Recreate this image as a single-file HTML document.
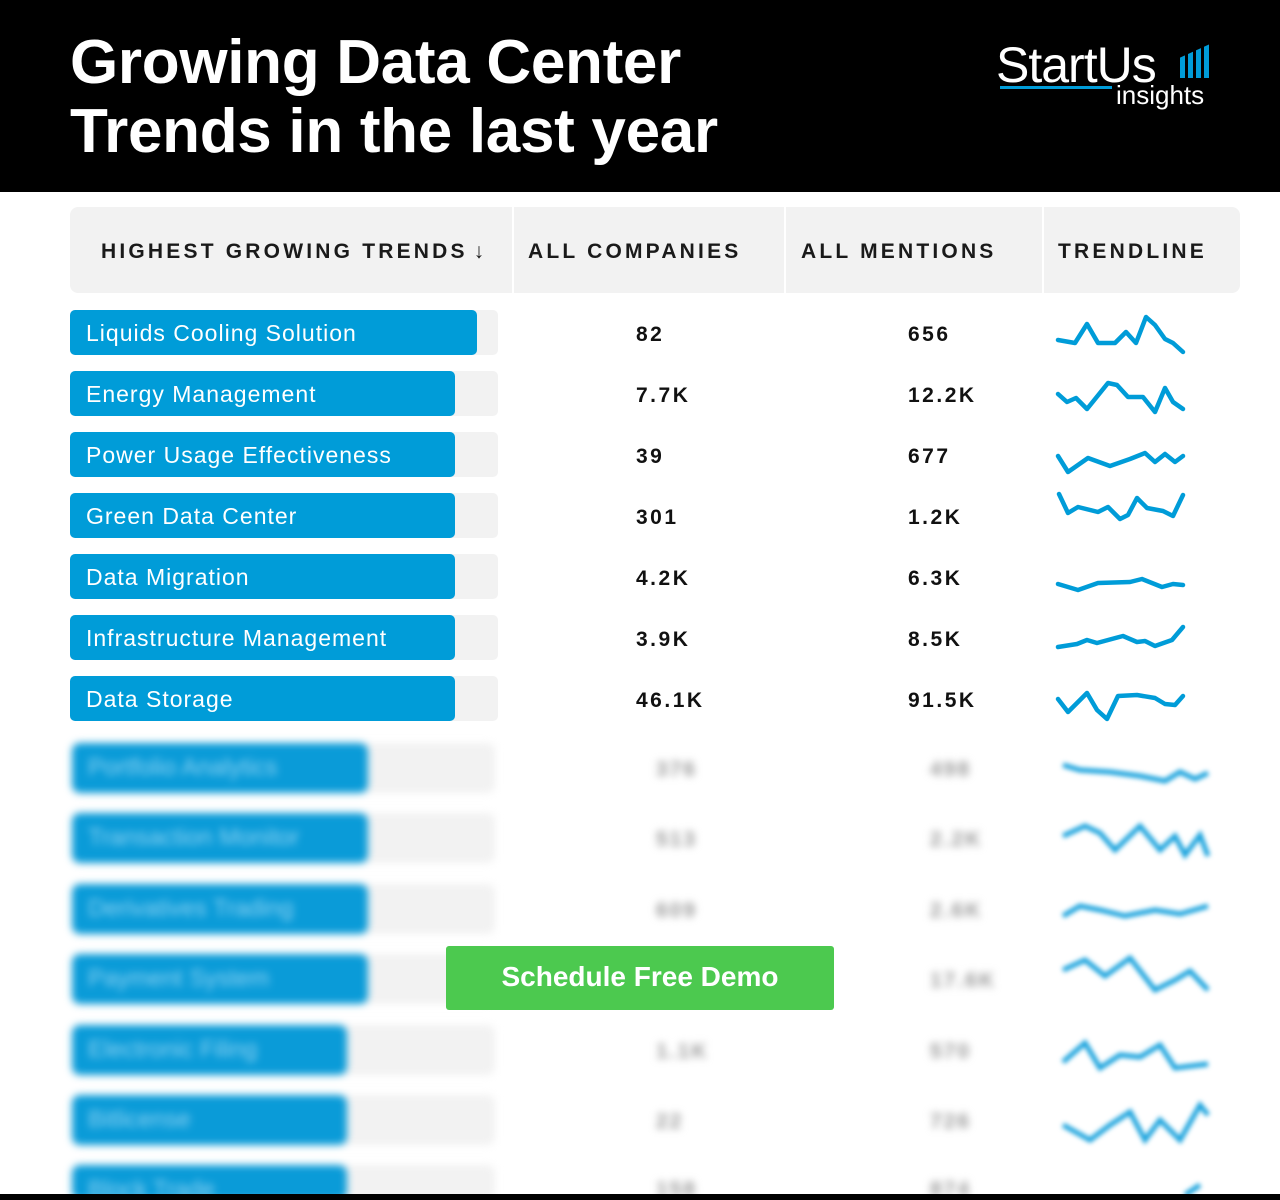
<!DOCTYPE html>
<html><head><meta charset="utf-8"><style>
*{margin:0;padding:0;box-sizing:border-box}
html,body{width:1280px;height:1200px;overflow:hidden}
body{background:#fff;position:relative;font-family:"Liberation Sans","DejaVu Sans",sans-serif}
.hdr{position:absolute;left:0;top:0;width:1280px;height:192px;background:#000}
.t{position:absolute;left:70px;color:#fff;font-weight:bold;font-size:62px;letter-spacing:-0.3px;white-space:nowrap;line-height:70px}
.th{position:absolute;top:207px;height:86px;background:#f2f2f2}
.hl{position:absolute;top:240px;font-weight:bold;font-size:21px;letter-spacing:3.2px;color:#1a1a1a;white-space:nowrap}
.track{position:absolute;left:70px;width:428px;height:45px;background:#f2f2f2;border-radius:5px}
.bar{position:absolute;left:70px;height:45px;background:#009cd8;border-radius:5px;color:#fff;font-size:23px;letter-spacing:1px;padding-left:16px;line-height:46px;white-space:nowrap}
.n{position:absolute;font-size:21px;font-weight:bold;letter-spacing:2.5px;color:#111}
.blur{filter:blur(4px)}
.bb{position:absolute;left:72px;height:50px;background:#0a9bd8;border-radius:8px;color:#8fd3f3;font-size:24px;padding-left:16px;line-height:50px}
.bt{position:absolute;left:72px;width:423px;height:50px;background:#f2f2f2;border-radius:8px}
.bn{position:absolute;font-size:21px;font-weight:bold;color:#999;letter-spacing:2px}
</style></head><body>
<div class="hdr"></div>
<div class="t" style="top:28px">Growing Data Center</div>
<div class="t" style="top:97px">Trends in the last year</div>
<div style="position:absolute;left:996px;top:36px;color:#fff;font-size:50px;letter-spacing:-1px">StartUs</div>
<div style="position:absolute;left:1180px;top:44px;width:30px;height:34px;background:repeating-linear-gradient(90deg,#009cd8 0 5px,transparent 5px 8px);clip-path:polygon(0 40%,100% 0,100% 100%,0 100%)"></div>
<div style="position:absolute;left:1000px;top:86px;width:112px;height:3px;background:#009cd8"></div>
<div style="position:absolute;left:1116px;top:80px;color:#fff;font-size:26px">insights</div>

<div class="th" style="left:70px;width:442px;border-radius:8px 0 0 8px"></div>
<div class="th" style="left:514px;width:270px"></div>
<div class="th" style="left:786px;width:256px"></div>
<div class="th" style="left:1044px;width:196px;border-radius:0 8px 8px 0"></div>
<div class="hl" style="left:101px">HIGHEST GROWING TRENDS<span style="letter-spacing:0;font-weight:normal"> ↓</span></div>
<div class="hl" style="left:528px">ALL COMPANIES</div>
<div class="hl" style="left:801px">ALL MENTIONS</div>
<div class="hl" style="left:1058px">TRENDLINE</div>

<div class="track" style="top:310px"></div><div class="bar" style="top:310px;width:407px">Liquids Cooling Solution</div>
<div class="track" style="top:371px"></div><div class="bar" style="top:371px;width:385px">Energy Management</div>
<div class="track" style="top:432px"></div><div class="bar" style="top:432px;width:385px">Power Usage Effectiveness</div>
<div class="track" style="top:493px"></div><div class="bar" style="top:493px;width:385px">Green Data Center</div>
<div class="track" style="top:554px"></div><div class="bar" style="top:554px;width:385px">Data Migration</div>
<div class="track" style="top:615px"></div><div class="bar" style="top:615px;width:385px">Infrastructure Management</div>
<div class="track" style="top:676px"></div><div class="bar" style="top:676px;width:385px">Data Storage</div>

<div class="n" style="left:636px;top:323px">82</div><div class="n" style="left:908px;top:323px">656</div>
<div class="n" style="left:636px;top:384px">7.7K</div><div class="n" style="left:908px;top:384px">12.2K</div>
<div class="n" style="left:636px;top:445px">39</div><div class="n" style="left:908px;top:445px">677</div>
<div class="n" style="left:636px;top:506px">301</div><div class="n" style="left:908px;top:506px">1.2K</div>
<div class="n" style="left:636px;top:567px">4.2K</div><div class="n" style="left:908px;top:567px">6.3K</div>
<div class="n" style="left:636px;top:628px">3.9K</div><div class="n" style="left:908px;top:628px">8.5K</div>
<div class="n" style="left:636px;top:689px">46.1K</div><div class="n" style="left:908px;top:689px">91.5K</div>

<svg style="position:absolute;left:0;top:0" width="1280" height="1200">
<g fill="none" stroke="#009cd8" stroke-width="4.5" stroke-linejoin="round" stroke-linecap="round">
<polyline points="1058,340 1075,343 1087,324 1098,343 1115,343 1126,332 1136,343 1146,317 1155,325 1165,339 1173,343 1183,352"/>
<polyline points="1058,394 1067,402 1076,398 1087,409 1108,383 1117,385 1128,397 1143,397 1155,412 1165,388 1173,402 1183,409"/>
<polyline points="1058,456 1068,472 1088,458 1110,466 1130,459 1145,453 1155,462 1165,454 1175,462 1183,456"/>
<polyline points="1059,494 1068,513 1078,507 1098,512 1108,507 1120,519 1128,515 1137,498 1147,508 1163,511 1173,516 1183,495"/>
<polyline points="1058,584 1078,590 1098,583 1130,582 1142,579 1162,587 1173,584 1183,585"/>
<polyline points="1058,647 1077,644 1087,640 1097,643 1123,636 1137,642 1145,641 1155,646 1172,640 1183,627"/>
<polyline points="1058,699 1068,712 1087,693 1097,710 1107,719 1118,696 1137,695 1155,698 1165,704 1175,705 1183,696"/>
</g>
<g fill="none" stroke="#1aa3dd" stroke-width="5" style="filter:blur(2.5px)">
<polyline points="1063,765 1080,770 1110,772 1140,776 1165,781 1180,772 1195,779 1208,773"/>
<polyline points="1063,836 1085,826 1100,833 1115,850 1140,826 1160,850 1175,836 1185,855 1200,835 1208,856"/>
<polyline points="1063,916 1080,906 1100,910 1125,916 1155,910 1180,914 1208,906"/>
<polyline points="1063,970 1085,960 1105,976 1130,958 1155,990 1175,980 1190,971 1208,990"/>
<polyline points="1063,1062 1085,1043 1100,1068 1120,1055 1140,1057 1160,1045 1175,1068 1208,1064"/>
<polyline points="1063,1125 1090,1140 1110,1125 1130,1112 1145,1140 1160,1120 1180,1140 1200,1105 1208,1115"/>
<polyline points="1185,1195 1200,1185"/>
</g>
</svg>

<div class="blur">
<div class="bt" style="top:743px"></div><div class="bb" style="top:743px;width:296px">Portfolio Analytics</div>
<div class="bt" style="top:813px"></div><div class="bb" style="top:813px;width:296px">Transaction Monitor</div>
<div class="bt" style="top:884px"></div><div class="bb" style="top:884px;width:296px">Derivatives Trading</div>
<div class="bt" style="top:954px"></div><div class="bb" style="top:954px;width:296px">Payment System</div>
<div class="bt" style="top:1025px"></div><div class="bb" style="top:1025px;width:275px">Electronic Filing</div>
<div class="bt" style="top:1095px"></div><div class="bb" style="top:1095px;width:275px">Bitlicense</div>
<div class="bt" style="top:1165px;height:35px"></div><div class="bb" style="top:1165px;width:275px;height:35px">Block Trade</div>
<div class="bn" style="left:656px;top:758px">376</div><div class="bn" style="left:930px;top:758px">498</div>
<div class="bn" style="left:656px;top:828px">513</div><div class="bn" style="left:930px;top:828px">2.2K</div>
<div class="bn" style="left:656px;top:899px">609</div><div class="bn" style="left:930px;top:899px">2.6K</div>
<div class="bn" style="left:930px;top:969px">17.6K</div>
<div class="bn" style="left:656px;top:1040px">1.1K</div><div class="bn" style="left:930px;top:1040px">570</div>
<div class="bn" style="left:656px;top:1110px">22</div><div class="bn" style="left:930px;top:1110px">726</div>
<div class="bn" style="left:656px;top:1178px">158</div><div class="bn" style="left:930px;top:1178px">874</div>
</div>

<div style="position:absolute;left:446px;top:946px;width:388px;height:64px;background:#4cc94f;border-radius:3px;color:#fff;font-weight:bold;font-size:28px;text-align:center;line-height:62px">Schedule Free Demo</div>
<div style="position:absolute;left:0;top:1194px;width:1280px;height:6px;background:#000"></div>
</body></html>
